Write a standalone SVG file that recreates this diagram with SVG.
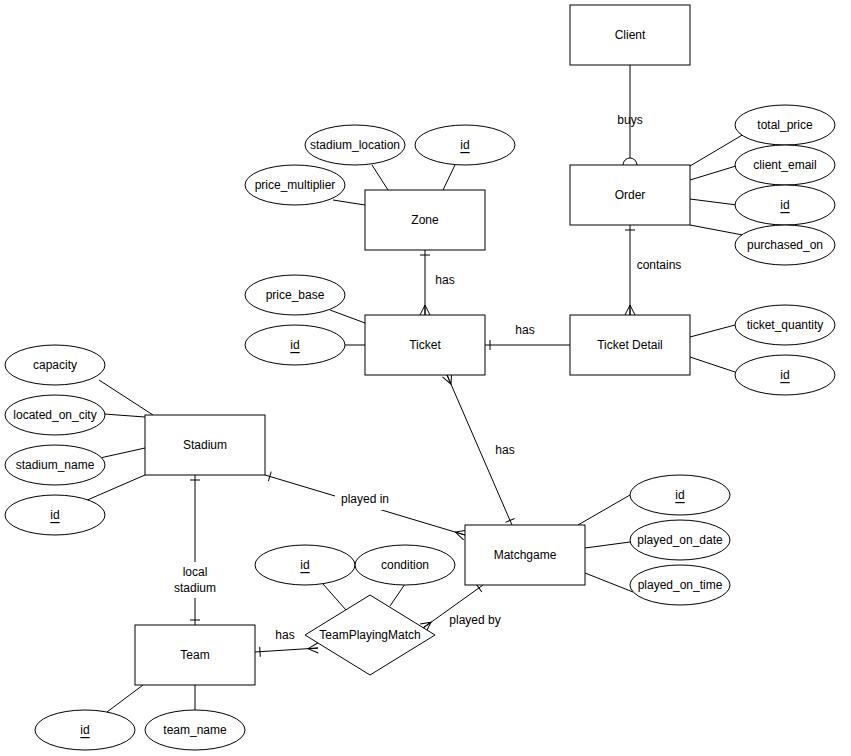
<svg xmlns="http://www.w3.org/2000/svg" width="851" height="756" viewBox="0 0 851 756">
<style>
rect.e,ellipse,polygon{fill:#fff;stroke:#000;stroke-width:1}
line,path{stroke:#000;stroke-width:1;fill:none}
text{font-family:"Liberation Sans",Arial,sans-serif;font-size:12px;text-anchor:middle;dominant-baseline:central;fill:#000}
.u{text-decoration:underline}
</style>
<defs>
<marker id="crow" markerUnits="userSpaceOnUse" viewBox="-1 -7 12 14" markerWidth="12" markerHeight="14" refX="10" refY="0" orient="auto"><path d="M10,-5 L0,0 L10,5 M0,0 L10,0"/></marker>
<marker id="bar" markerUnits="userSpaceOnUse" viewBox="-1 -7 12 14" markerWidth="12" markerHeight="14" refX="10" refY="0" orient="auto-start-reverse"><path d="M5,-5 L5,5"/></marker>
</defs>
<rect width="851" height="756" fill="#fff"/>
<g id="connectors">
<line x1="630" y1="65" x2="630" y2="158"/>
<path d="M623,165 A7,7 0 0 1 637,165" fill="#fff"/>
<line x1="630" y1="225" x2="630" y2="315" marker-start="url(#bar)" marker-end="url(#crow)"/>
<line x1="425" y1="250" x2="425" y2="315" marker-start="url(#bar)" marker-end="url(#crow)"/>
<line x1="570" y1="345" x2="485" y2="345" marker-start="url(#crow)" marker-end="url(#bar)"/>
<line x1="512" y1="525" x2="447" y2="375" marker-start="url(#bar)" marker-end="url(#crow)"/>
<line x1="265" y1="475" x2="465" y2="535" marker-start="url(#bar)" marker-end="url(#crow)"/>
<line x1="195" y1="475" x2="195" y2="625" marker-start="url(#bar)" marker-end="url(#bar)"/>
<line x1="255" y1="652" x2="318" y2="648" marker-start="url(#bar)" marker-end="url(#crow)"/>
<line x1="483" y1="585" x2="423" y2="628" marker-start="url(#bar)" marker-end="url(#crow)"/>
<line x1="333" y1="200" x2="365" y2="205"/>
<line x1="372" y1="165" x2="388" y2="190"/>
<line x1="455" y1="165" x2="443" y2="190"/>
<line x1="744" y1="134" x2="690" y2="166"/>
<line x1="736" y1="166" x2="690" y2="180"/>
<line x1="737" y1="205" x2="690" y2="199"/>
<line x1="748" y1="236" x2="690" y2="225"/>
<line x1="330" y1="310" x2="365" y2="323"/>
<line x1="345" y1="345" x2="365" y2="345"/>
<line x1="735" y1="325" x2="690" y2="337"/>
<line x1="735" y1="372" x2="690" y2="357"/>
<line x1="99" y1="380" x2="153" y2="415"/>
<line x1="104" y1="414" x2="145" y2="417"/>
<line x1="100" y1="458" x2="145" y2="448"/>
<line x1="85" y1="501" x2="145" y2="475"/>
<line x1="630" y1="495" x2="578" y2="525"/>
<line x1="630" y1="542" x2="585" y2="548"/>
<line x1="633" y1="592" x2="585" y2="573"/>
<line x1="323" y1="584" x2="346" y2="610"/>
<line x1="405" y1="584" x2="390" y2="606"/>
<line x1="107" y1="712" x2="143" y2="685"/>
<line x1="195" y1="710" x2="195" y2="685"/>
<rect x="335" y="488" width="60" height="22" fill="#fff"/>
<rect x="160" y="562" width="70" height="36" fill="#fff"/>
<text x="630" y="120">buys</text>
<text x="659" y="265">contains</text>
<text x="445" y="280">has</text>
<text x="525" y="330">has</text>
<text x="505" y="450">has</text>
<text x="365" y="499">played in</text>
<text x="195" y="572">local</text>
<text x="195" y="588">stadium</text>
<text x="285" y="635">has</text>
<text x="475" y="620">played by</text>
</g>
<g id="Client"><rect class="e" x="570" y="5" width="120" height="60"/><text x="630" y="35">Client</text></g>
<g id="Order"><rect class="e" x="570" y="165" width="120" height="60"/><text x="630" y="195">Order</text></g>
<g id="Zone"><rect class="e" x="365" y="190" width="120" height="60"/><text x="425" y="220">Zone</text></g>
<g id="Ticket"><rect class="e" x="365" y="315" width="120" height="60"/><text x="425" y="345">Ticket</text></g>
<g id="TicketDetail"><rect class="e" x="570" y="315" width="120" height="60"/><text x="630" y="345">Ticket Detail</text></g>
<g id="Stadium"><rect class="e" x="145" y="415" width="120" height="60"/><text x="205" y="445">Stadium</text></g>
<g id="Matchgame"><rect class="e" x="465" y="525" width="120" height="60"/><text x="525" y="555">Matchgame</text></g>
<g id="Team"><rect class="e" x="135" y="625" width="120" height="60"/><text x="195" y="655">Team</text></g>
<g id="TeamPlayingMatch"><polygon points="370,595 435,635 370,675 305,635"/><text x="370" y="635">TeamPlayingMatch</text></g>
<g id="attr_stadium_location"><ellipse cx="355" cy="145" rx="50" ry="20"/><text x="355" y="145">stadium_location</text></g>
<g id="attr_zone_id"><ellipse cx="465" cy="145" rx="50" ry="20"/><text class="u" x="465" y="145">id</text></g>
<g id="attr_price_multiplier"><ellipse cx="295" cy="185" rx="50" ry="20"/><text x="295" y="185">price_multiplier</text></g>
<g id="attr_total_price"><ellipse cx="785" cy="125" rx="50" ry="20"/><text x="785" y="125">total_price</text></g>
<g id="attr_client_email"><ellipse cx="785" cy="165" rx="50" ry="20"/><text x="785" y="165">client_email</text></g>
<g id="attr_order_id"><ellipse cx="785" cy="205" rx="50" ry="20"/><text class="u" x="785" y="205">id</text></g>
<g id="attr_purchased_on"><ellipse cx="785" cy="245" rx="50" ry="20"/><text x="785" y="245">purchased_on</text></g>
<g id="attr_price_base"><ellipse cx="295" cy="295" rx="50" ry="20"/><text x="295" y="295">price_base</text></g>
<g id="attr_ticket_id"><ellipse cx="295" cy="345" rx="50" ry="20"/><text class="u" x="295" y="345">id</text></g>
<g id="attr_ticket_quantity"><ellipse cx="785" cy="325" rx="50" ry="20"/><text x="785" y="325">ticket_quantity</text></g>
<g id="attr_td_id"><ellipse cx="785" cy="375" rx="50" ry="20"/><text class="u" x="785" y="375">id</text></g>
<g id="attr_capacity"><ellipse cx="55" cy="365" rx="50" ry="20"/><text x="55" y="365">capacity</text></g>
<g id="attr_located_on_city"><ellipse cx="55" cy="415" rx="50" ry="20"/><text x="55" y="415">located_on_city</text></g>
<g id="attr_stadium_name"><ellipse cx="55" cy="465" rx="50" ry="20"/><text x="55" y="465">stadium_name</text></g>
<g id="attr_stadium_id"><ellipse cx="55" cy="515" rx="50" ry="20"/><text class="u" x="55" y="515">id</text></g>
<g id="attr_match_id"><ellipse cx="680" cy="495" rx="50" ry="20"/><text class="u" x="680" y="495">id</text></g>
<g id="attr_played_on_date"><ellipse cx="680" cy="540" rx="50" ry="20"/><text x="680" y="540">played_on_date</text></g>
<g id="attr_played_on_time"><ellipse cx="680" cy="585" rx="50" ry="20"/><text x="680" y="585">played_on_time</text></g>
<g id="attr_tpm_id"><ellipse cx="305" cy="565" rx="50" ry="20"/><text class="u" x="305" y="565">id</text></g>
<g id="attr_condition"><ellipse cx="405" cy="565" rx="50" ry="20"/><text x="405" y="565">condition</text></g>
<g id="attr_team_id"><ellipse cx="85" cy="730" rx="50" ry="20"/><text class="u" x="85" y="730">id</text></g>
<g id="attr_team_name"><ellipse cx="195" cy="730" rx="50" ry="20"/><text x="195" y="730">team_name</text></g>
</svg>
